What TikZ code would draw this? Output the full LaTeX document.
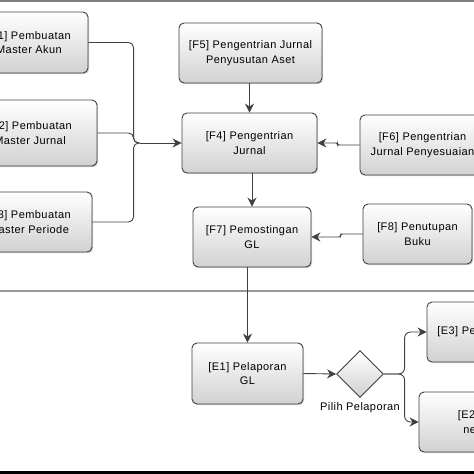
\documentclass[tikz,border=0pt]{standalone}
\usepackage{fontspec}
\setmainfont[LetterSpace=4]{Liberation Sans}
\usepackage{tikz}
\usetikzlibrary{arrows.meta}
\usetikzlibrary{shapes.geometric}
\usetikzlibrary{shadows}
\usetikzlibrary{positioning}

\tikzset{
  proc/.style={draw=black!75, line width=0.9pt, rounded corners=5pt,
    top color=white, bottom color=black!18, align=center,
    drop shadow={shadow xshift=1.2pt, shadow yshift=-1.2pt, opacity=0.35},
    font=\fontsize{11}{14.5}\selectfont, inner sep=2pt},
  choice/.style={diamond, draw=black!75, line width=0.9pt,
    top color=white, bottom color=black!18, minimum size=47pt, inner sep=0pt},
  feed/.style={draw=black!75, line width=0.9pt, rounded corners=5pt},
  arr/.style={feed, -{Stealth[length=9pt,width=9pt,inset=3pt]}}
}

\begin{document}
\begin{tikzpicture}[x=1pt,y=-1pt]
    \useasboundingbox (0,0) rectangle (474,474);
    \clip (0,0) rectangle (474,474);
    % lane lines
    \draw[black!50, line width=2pt] (0,1) -- (474,1);
    \draw[black!40, line width=1.4pt] (0,291) -- (474,291);
    \draw[black, line width=3.5pt] (0,472.5) -- (474,472.5);
    % master data
    \node[proc, minimum width=118pt, minimum height=61pt] (F1) at (29,42.5) {[F1] Pembuatan\\Master Akun};
    \node[proc, minimum width=134pt, minimum height=66pt] (F2) at (30,133) {[F2] Pembuatan\\Master Jurnal};
    \node[proc, minimum width=126pt, minimum height=60pt] (F3) at (29,222) {[F3] Pembuatan\\Master Periode};
    % journal entries
    \node[proc, minimum width=143pt, minimum height=60pt] (F5) at (250.5,53) {[F5] Pengentrian Jurnal\\Penyusutan Aset};
    \node[proc, minimum width=135pt, minimum height=60pt] (F4) at (249.5,143) {[F4] Pengentrian\\Jurnal};
    \node[proc, minimum width=125pt, minimum height=60pt] (F6) at (422.5,145) {[F6] Pengentrian\\Jurnal Penyesuaian};
    \node[proc, minimum width=118pt, minimum height=60pt] (F7) at (252,237) {[F7] Pemostingan\\GL};
    \node[proc, minimum width=109pt, minimum height=60pt] (F8) at (417.5,234) {[F8] Penutupan\\Buku};
    % reports
    \node[proc, minimum width=111pt, minimum height=61pt] (E1) at (247.5,373.5) {[E1] Pelaporan\\GL};
    \node[choice] (pilih) at (360,374) {};
    \node[below=1pt of pilih, font=\fontsize{11}{13}\selectfont] (pilihtxt) {Pilih Pelaporan};
    \node[proc, minimum width=140pt, minimum height=60pt] (E3) at (497,332) {[E3] Pelaporan Neraca};
    \node[proc, minimum width=156pt, minimum height=60pt] (E2) at (497,422) {[E2] Pelaporan\\neraca saldo};
    % connectors
    \coordinate (merge) at ([xshift=-42pt]F4.west);
    \draw[feed] (F1.east) -| ([xshift=-6pt]merge) -- (merge);
    \draw[feed] (F2.east) -| ([xshift=-6pt]merge) -- (merge);
    \draw[feed] (F3.east) -| ([xshift=-6pt]merge) -- (merge);
    \draw[arr] (merge) -- (F4.west);
    \draw[arr] (F5.south -| F4.north) -- (F4.north);
    \draw[arr, rounded corners=2pt] (F6.west) -- ++(-22,0) |- (F4.east);
    \draw[arr] (F4.south -| F7.north) -- (F7.north);
    \draw[arr, rounded corners=2pt] (F8.west) -- ++(-22,0) |- (F7.east);
    \draw[arr] (E1.north |- F7.south) -- (E1.north);
    \draw[arr] (E1.east) -- (pilih.west);
    \draw[arr, rounded corners=6pt] (pilih.east) -| ([xshift=-22pt]E3.west) -- (E3.west);
    \draw[arr, rounded corners=6pt] (pilih.east) -| ([xshift=-14pt]E2.west) -- (E2.west);
\end{tikzpicture}
\end{document}
